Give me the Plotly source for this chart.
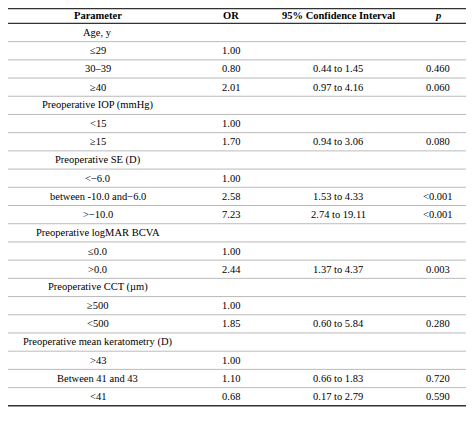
import plotly.graph_objects as go

header = ["Parameter", "OR", "95% Confidence Interval", "p"]
parameters = ["Age, y", "≤29", "30–39", "≥40",
              "Preoperative IOP (mmHg)", "<15", "≥15",
              "Preoperative SE (D)", "<−6.0", "between -10.0 and−6.0", ">−10.0",
              "Preoperative logMAR BCVA", "≤0.0", ">0.0",
              "Preoperative CCT (µm)", "≥500", "<500",
              "Preoperative mean keratometry (D)", ">43", "Between 41 and 43", "<41"]
odds = ["", "1.00", "0.80", "2.01", "", "1.00", "1.70", "", "1.00", "2.58", "7.23",
        "", "1.00", "2.44", "", "1.00", "1.85", "", "1.00", "1.10", "0.68"]
ci = ["", "", "0.44 to 1.45", "0.97 to 4.16", "", "", "0.94 to 3.06", "", "",
      "1.53 to 4.33", "2.74 to 19.11", "", "", "1.37 to 4.37", "", "", "0.60 to 5.84",
      "", "", "0.66 to 1.83", "0.17 to 2.79"]
pvals = ["", "", "0.460", "0.060", "", "", "0.080", "", "", "<0.001", "<0.001",
         "", "", "0.003", "", "", "0.280", "", "", "0.720", "0.590"]
footnote = ("OR, odds ratio; IOP, intraocular pressure; SE, spherical equivalent; D, diopters; "
            "BCVA, best corrected visual acuity;<br>CCT, central corneal thickness.")

col_x = [93, 231, 342, 445]
row_h = 18.9
top = 16
font = dict(family="Liberation Serif", size=10.5, color="black")

fig = go.Figure()
ann = []
shapes = []
for j, h in enumerate(header):
    ann.append(dict(x=col_x[j], y=8, text=f"<b>{h}</b>" if j < 3 else "<b><i>p</i></b>",
                    showarrow=False, font=font))
for i, row in enumerate(zip(parameters, odds, ci, pvals)):
    yc = top + row_h * (i + 0.5)
    for j, t in enumerate(row):
        if t:
            ann.append(dict(x=col_x[j], y=yc, text=t, showarrow=False, font=font))
    if i < len(parameters) - 1:
        shapes.append(dict(type="line", x0=0, x1=474, y0=top + row_h * (i + 1),
                           y1=top + row_h * (i + 1), line=dict(color="#aaaaaa", width=0.8)))
bottom = top + row_h * len(parameters)
for y, w in [(0.5, 1.5), (top, 1.2), (bottom, 1.5)]:
    shapes.append(dict(type="line", x0=0, x1=474, y0=y, y1=y, line=dict(color="#333333", width=w)))
ann.append(dict(x=-2, y=bottom + 2, text=footnote, showarrow=False, xanchor="left",
                yanchor="top", align="left", font=dict(family="Liberation Serif", size=8.6, color="black")))

fig.update_layout(width=458, height=422, margin=dict(l=0, r=0, t=0, b=0),
                  plot_bgcolor="white", paper_bgcolor="white",
                  xaxis=dict(range=[0, 474], visible=False, fixedrange=True),
                  yaxis=dict(range=[438, 0], visible=False, fixedrange=True),
                  annotations=ann, shapes=shapes, showlegend=False)
fig.write_html("out.html")
